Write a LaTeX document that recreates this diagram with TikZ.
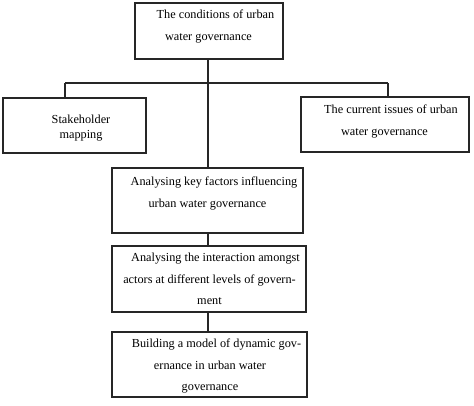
\documentclass[tikz,border=0pt]{standalone}
\usepackage{fontspec}
\setmainfont{Liberation Serif}
\begin{document}
\begin{tikzpicture}[x=0.75pt,y=-0.75pt,
  box/.style={draw=black!85,line width=0.9pt,rectangle,inner sep=0pt},
  txt/.style={anchor=north,inner sep=0pt,align=center,font=\fontsize{9.2}{16.1}\selectfont},
  txtl/.style={anchor=north,inner sep=0pt,align=center,font=\fontsize{9.2}{11.25}\selectfont},
  conn/.style={draw=black!85,line width=0.9pt}]
\useasboundingbox (0,0) rectangle (474,405);
\node[box,minimum width=111pt,minimum height=42pt] (top) at (209,31) {};
\node[box,minimum width=107.25pt,minimum height=41.25pt] (left) at (74.5,125.5) {};
\node[box,minimum width=126pt,minimum height=41.25pt] (right) at (385,124.5) {};
\node[box,minimum width=143.25pt,minimum height=48.75pt] (factors) at (207.5,200.5) {};
\node[box,minimum width=145.5pt,minimum height=49.5pt] (inter) at (209,279) {};
\node[box,minimum width=146.25pt,minimum height=48.75pt] (build) at (209.5,364.5) {};

\node[txt] (ttop) at (208.5,10) {\hspace*{10.5pt}The conditions of urban\\water governance};
\node[txtl] (tleft) at (81,115) {Stakeholder\\mapping};
\node[txt] (tright) at (384.5,105) {\hspace*{9.75pt}The current issues of urban\\water governance};
\node[txt] (tfactors) at (207.5,177) {\hspace*{9.75pt}Analysing key factors influencing\\urban water governance};
\node[txt] (tinter) at (209.5,253) {\hspace*{9pt}Analysing the interaction amongst\\actors at different levels of govern-\\ment};
\node[txt] (tbuild) at (210,339) {\hspace*{9.75pt}Building a model of dynamic gov-\\ernance in urban water\\governance};

\coordinate (trunk) at (208,59);
\coordinate (bl) at (65,83);
\coordinate (br) at (388,83);
\draw[conn] (trunk) -- (trunk |- factors.north);
\draw[conn] (bl) -- (br);
\draw[conn] (bl) -- (bl |- left.north);
\draw[conn] (br) -- (br |- right.north);
\draw[conn] (trunk |- factors.south) -- (trunk |- inter.north);
\draw[conn] (trunk |- inter.south) -- (trunk |- build.north);
\end{tikzpicture}
\end{document}
